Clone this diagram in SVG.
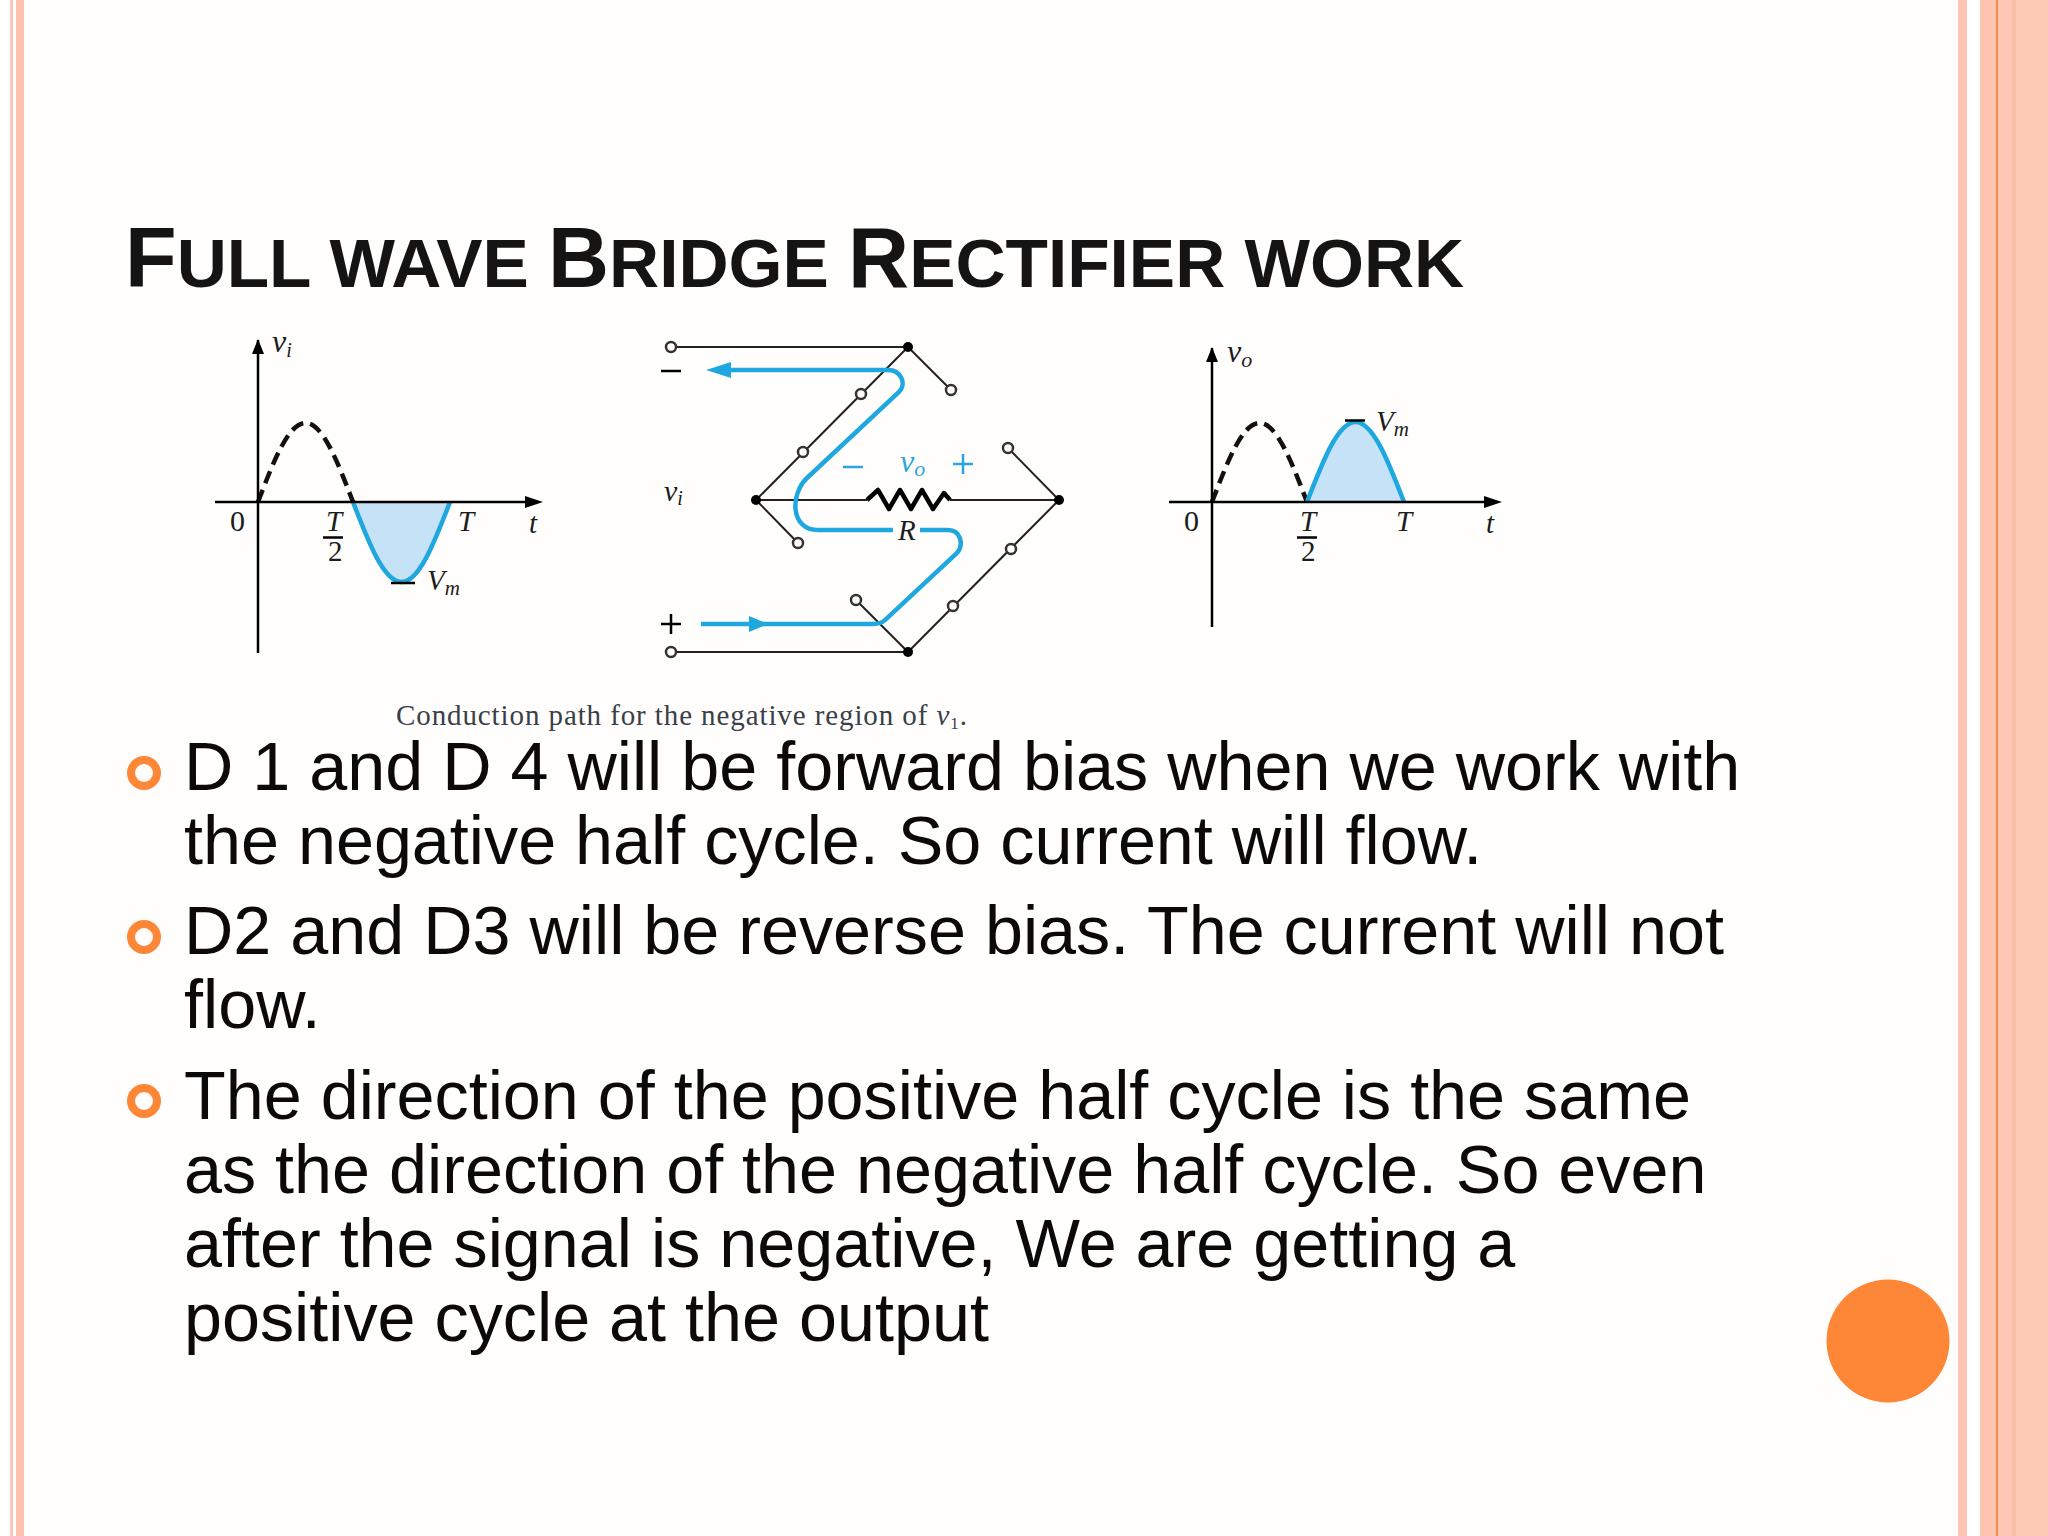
<svg xmlns="http://www.w3.org/2000/svg" width="2048" height="1536" viewBox="0 0 2048 1536">
<defs><style>
.body{font:68.3px "Liberation Sans",Arial,sans-serif;fill:#0a0a0a}
.title{font:bold 84.5px "Liberation Sans",Arial,sans-serif;fill:#141414}
.s{font-size:69.4px}
.bl{fill:none;stroke:#000;stroke-width:2.5}
.thin{fill:none;stroke:#222;stroke-width:2}
.blue{fill:none;stroke:#1fa7e0;stroke-width:4.5}
.fillb{fill:#c5e2f6;stroke:none}
.dash{fill:none;stroke:#111;stroke-width:4.5;stroke-dasharray:13 7}
.o{fill:#fff;stroke:#333;stroke-width:2.5}
.n{fill:#000}
.serif{font-family:"Liberation Serif","Times New Roman",serif;fill:#1c1c1c;font-size:28px}
.it{font-style:italic}
.bt{fill:none;stroke:#fe8637;stroke-width:8}
</style></defs>
<rect width="2048" height="1536" fill="#fffefd"/>
<g id="stripes">
<rect x="0" y="0" width="10" height="1536" fill="#fff"/>
<rect x="10" y="0" width="3" height="1536" fill="#f6c9bc"/>
<rect x="13" y="0" width="3" height="1536" fill="#fff"/>
<rect x="16" y="0" width="8" height="1536" fill="#ffc1ae"/>
<rect x="1958" y="0" width="9" height="1536" fill="#ffc4b2"/>
<rect x="1967" y="0" width="13" height="1536" fill="#fff"/>
<rect x="1980" y="0" width="16" height="1536" fill="#ffc4b0"/>
<rect x="1996" y="0" width="2" height="1536" fill="#f58a4a"/>
<rect x="1998" y="0" width="14" height="1536" fill="#ffc8b6"/>
<rect x="2012" y="0" width="4" height="1536" fill="#fbbfa8"/>
<rect x="2016" y="0" width="32" height="1536" fill="#fdcbb5"/>
</g>
<circle id="accent" cx="1888" cy="1341" r="61.500" fill="#fe8637"/>
<text id="title" class="title" x="125" y="287">F<tspan class="s">ULL WAVE </tspan>B<tspan class="s">RIDGE </tspan>R<tspan class="s">ECTIFIER WORK</tspan></text>

<g id="input-graph">
<path class="fillb" d="M353 502C368.800 543 383.900 582 401.500 582C419.100 582 434.200 543 450 502Z"/>
<path class="dash" d="M258 502C273.500 461.500 288.300 423 305.500 423C322.700 423 337.500 461.500 353 502"/>
<path class="blue" d="M353 502C368.800 543 383.900 582 401.500 582C419.100 582 434.200 543 450 502"/>
<path class="bl" d="M258 340V653M215 502H535M391 583H415M323 537.500H343"/>
<path class="n" d="M258 339l-6 15h12zM543 502l-18-6v12z"/>
<text class="serif it" x="272" y="352" style="font-size:32px">v<tspan dy="5" style="font-size:20px">i</tspan></text>
<text class="serif" x="230" y="531" style="font-size:30px">0</text>
<text class="serif it" x="326" y="531" style="font-size:29px">T</text>
<text class="serif" x="328" y="561" style="font-size:29px">2</text>
<text class="serif it" x="458" y="531" style="font-size:29px">T</text>
<text class="serif it" x="529" y="533" style="font-size:29px">t</text>
<text class="serif it" x="427" y="590" style="font-size:29px">V<tspan dy="5" style="font-size:21px">m</tspan></text>
</g>

<g id="bridge">
<path class="thin" d="M671 347H908L951 390M908 347L756 500L798 543M756 500H867M950 500H1059L1008 448M1059 500L908 652L856 600M671 652H908"/>
<path fill="none" stroke="#000" stroke-width="4.500" stroke-linejoin="round" d="M867 500L878 490L889 509L900 490L911 509L922 490L933 509L944 493L950 500"/>
<circle class="n" cx="908" cy="347" r="5"/><circle class="n" cx="756" cy="500" r="5"/><circle class="n" cx="1059" cy="500" r="5"/><circle class="n" cx="908" cy="652" r="5"/>
<circle class="o" cx="671" cy="347" r="5"/><circle class="o" cx="951" cy="390" r="5"/><circle class="o" cx="861" cy="394" r="5"/><circle class="o" cx="803" cy="452" r="5"/><circle class="o" cx="798" cy="543" r="5"/><circle class="o" cx="1008" cy="448" r="5"/><circle class="o" cx="1011" cy="549" r="5"/><circle class="o" cx="953" cy="606" r="5"/><circle class="o" cx="856" cy="600" r="5"/><circle class="o" cx="671" cy="652" r="5"/>
<path class="blue" d="M725 370H888C901 370 907 384 899 392L807 478C790 494 790 530 818 530H893M920 530H948C961 530 964 545 957 553L885 620C882 623 878 624 873 624H701"/>
<path fill="#1fa7e0" d="M706 370l25-8v16zM768 624l-19-8v16z"/>
<path class="bl" d="M661 371H681M661 624H681M671 614V634"/>
<path fill="none" stroke="#2aa7e0" stroke-width="2.500" d="M843 467H863M953 464H973M963 454V474"/>
<text class="serif it" x="664" y="501" style="font-size:30px">v<tspan dy="4" style="font-size:20px">i</tspan></text>
<text class="serif it" x="900" y="472" style="font-size:32px;fill:#2aa7e0">v<tspan dy="4" style="font-size:22px">o</tspan></text>
<text class="serif it" x="898" y="540" style="font-size:29px">R</text>
</g>

<g id="output-graph">
<path class="fillb" d="M1307 502C1322.800 461 1338 422 1355.500 422C1373 422 1388.200 461 1404 502Z"/>
<path class="dash" d="M1212 502C1227.500 461.500 1242.300 423 1259.500 423C1276.700 423 1291.500 461.500 1307 502"/>
<path class="blue" d="M1307 502C1322.800 461 1338 422 1355.500 422C1373 422 1388.200 461 1404 502"/>
<path class="bl" d="M1212 348V627M1169 502H1492M1345 420.500H1365M1297 537.500H1317"/>
<path class="n" d="M1212 347l-6 15h12zM1502 502l-18-6v12z"/>
<text class="serif it" x="1227" y="362" style="font-size:32px">v<tspan dy="5" style="font-size:22px">o</tspan></text>
<text class="serif" x="1184" y="531" style="font-size:30px">0</text>
<text class="serif it" x="1300" y="531" style="font-size:29px">T</text>
<text class="serif" x="1301" y="561" style="font-size:29px">2</text>
<text class="serif it" x="1396" y="531" style="font-size:29px">T</text>
<text class="serif it" x="1486" y="533" style="font-size:29px">t</text>
<text class="serif it" x="1376" y="431" style="font-size:29px">V<tspan dy="5" style="font-size:21px">m</tspan></text>
</g>

<text id="caption" class="serif" x="396" y="725" style="font-size:29px;letter-spacing:0.9px;fill:#3a3f48">Conduction path for the negative region of <tspan font-style="italic">v</tspan><tspan dy="4" style="font-size:17px">1</tspan><tspan dy="-4">.</tspan></text>

<g id="bullets">
<circle class="bt" cx="144" cy="773" r="13"/>
<circle class="bt" cx="144" cy="937" r="13"/>
<circle class="bt" cx="144" cy="1101" r="13"/>
</g>
<g id="body">
<text class="body" x="184" y="790">D 1 and D 4 will be forward bias when we work with</text>
<text class="body" x="184" y="864">the negative half cycle. So current will flow.</text>
<text class="body" x="184" y="954">D2 and D3 will be reverse bias. The current will not</text>
<text class="body" x="184" y="1028">flow.</text>
<text class="body" x="184" y="1119">The direction of the positive half cycle is the same</text>
<text class="body" x="184" y="1193">as the direction of the negative half cycle. So even</text>
<text class="body" x="184" y="1267">after the signal is negative, We are getting a</text>
<text class="body" x="184" y="1341">positive cycle at the output</text>
</g>
</svg>
